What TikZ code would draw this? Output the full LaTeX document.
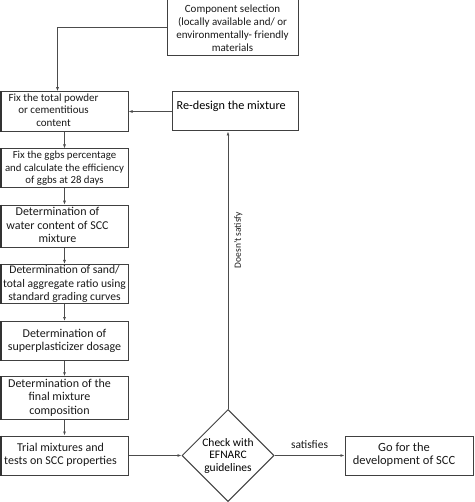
\documentclass[tikz,border=0pt]{standalone}
\usepackage{fontspec}
\setmainfont{Carlito}
\usetikzlibrary{shapes.geometric,arrows.meta}
\newcommand{\shiftedtext}[2]{\hspace*{#1}\begin{tabular}{@{}c@{}}#2\end{tabular}}
\begin{document}
\begin{tikzpicture}[x=1pt,y=-1pt,
  box/.style={draw=black!75,line width=1pt,rectangle,inner sep=1pt,align=center,font=\fontsize{11}{13}\selectfont,text=black!90},
  lbox/.style={box,minimum width=127pt,minimum height=39pt,font=\fontsize{12}{13.5}\selectfont},
  dec/.style={draw=black!75,line width=1pt,diamond,aspect=1,inner sep=0pt,minimum size=92pt,align=center,font=\fontsize{11.5}{12.5}\selectfont},
  conn/.style={draw=black!70,line width=1pt,-{Latex[length=4pt,width=3pt]}},
  edge/.style={draw=black!80,line width=2.5pt},
  lab/.style={font=\fontsize{11.5}{13}\selectfont,text=black!90}]
\useasboundingbox (0,0) rectangle (474,502);
\node[box,minimum width=131pt,minimum height=56pt] (top) at (232.5,28) {Component selection\\(locally available and/ or\\environmentally- friendly\\materials};
\node[lbox,align=left,font=\fontsize{11}{12.5}\selectfont] (b2) at (64.5,111.5) {\shiftedtext{-22pt}{Fix the total powder\\or cementitious\\content}};
\node[box,minimum width=126pt,minimum height=39pt,
  label={[anchor=north west,font=\fontsize{12.2}{13}\selectfont,inner sep=0pt,xshift=5pt,yshift=-9pt]north west:Re-design the mixture}] (rd) at (235,111.5) {};
\node[lbox,font=\fontsize{10.8}{12.5}\selectfont] (b3) at (64.5,168.5) {Fix the ggbs percentage\\and calculate the efficiency\\of ggbs at 28 days};
\node[lbox,align=left] (b4) at (64.5,226.5) {\shiftedtext{-14pt}{Determination of\\water content of SCC\\mixture}};
\node[lbox,font=\fontsize{11.6}{13.5}\selectfont] (b5) at (64.5,284) {Determination of sand/\\total aggregate ratio using\\standard grading curves};
\node[lbox] (b6) at (64.5,341) {Determination of\\superplasticizer dosage};
\node[lbox,align=left] (b7) at (64.5,398) {\shiftedtext{-10pt}{Determination of the\\final mixture\\composition}};
\node[lbox,align=left] (b8) at (64.5,455.5) {\shiftedtext{-8pt}{Trial mixtures and\\tests on SCC properties}};
\node[dec] (d) at (228,455.5) {Check with\\EFNARC\\guidelines};
\node[box,minimum width=128pt,minimum height=39pt,font=\fontsize{12.5}{12.5}\selectfont] (go) at (409,455.5) {\shiftedtext{-10pt}{Go for the\\development of SCC}};
\foreach \n in {b2,b3,b4,b5,b6,b7,b8} \draw[edge] (\n.north west) -- (\n.south west);
\draw[conn] (top.west) -| (b2.north -| 57.5,0);
\draw[conn] (rd.west) -- (b2.east);
\draw[conn] (b2.south) -- (b3.north);
\draw[conn] (b3.south) -- (b4.north);
\draw[conn] (b4.south) -- (b5.north);
\draw[conn] (b5.south) -- (b6.north);
\draw[conn] (b6.south) -- (b7.north);
\draw[conn] (b7.south) -- (b8.north);
\draw[conn] (b8.east) -- (d.west);
\draw[conn] (d.east) -- node[lab,above=3pt] {satisfies} (go.west);
\draw[conn] (d.north) -- (d.north |- rd.south);
\node[lab,font=\fontsize{9.5}{11}\selectfont,rotate=90,anchor=north,inner sep=0pt] (ds) at (234,240) {Doesn't satisfy};
\end{tikzpicture}
\end{document}
